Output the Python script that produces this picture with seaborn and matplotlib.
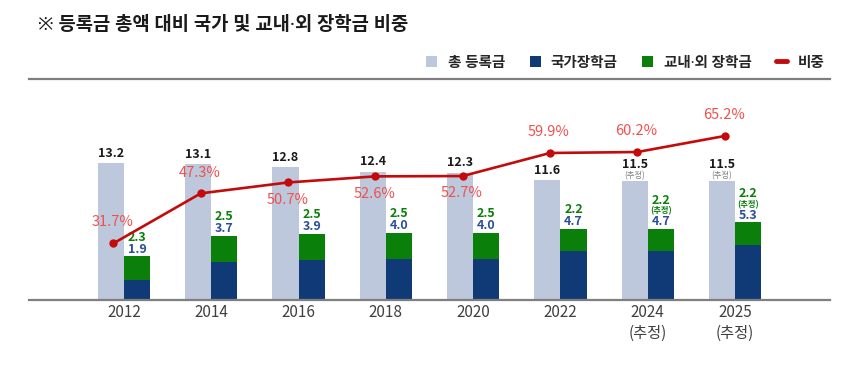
import numpy as np
import pandas as pd
import seaborn as sns
import matplotlib
matplotlib.use("Agg")
import matplotlib.pyplot as plt
from matplotlib.patches import Patch
from matplotlib.lines import Line2D

# ---- data ----
years = ['2012', '2014', '2016', '2018', '2020', '2022', '2024', '2025']
tick_labels = ['2012', '2014', '2016', '2018', '2020', '2022', '2024\n(추정)', '2025\n(추정)']
total = [13.2, 13.1, 12.8, 12.4, 12.3, 11.6, 11.5, 11.5]
national = [1.9, 3.7, 3.9, 4.0, 4.0, 4.7, 4.7, 5.3]
external = [2.3, 2.5, 2.5, 2.5, 2.5, 2.2, 2.2, 2.2]
ratio = [31.7, 47.3, 50.7, 52.6, 52.7, 59.9, 60.2, 65.2]
estimated = [False, False, False, False, False, False, True, True]
ratio_below = [False, False, True, True, True, False, False, False]

title = '※ 등록금 총액 대비 국가 및 교내·외 장학금 비중'
legend_labels = ['총 등록금', '국가장학금', '교내·외 장학금', '비중']

# ---- style ----
sns.set_style('white')
plt.rcParams['font.family'] = ['Noto Sans CJK KR', 'DejaVu Sans']
MIX = ['Noto Sans', 'Noto Sans CJK KR', 'DejaVu Sans']

C_GRAY = '#BDC8DC'
C_NAVY = '#103A76'
C_GREEN = '#0A7F0A'
C_RED = '#C40A0A'
C_RLAB = '#F0504E'
C_SPINE = '#7F7F7F'

fig = plt.figure(figsize=(8.6, 3.77), dpi=100)
ax = fig.add_axes([29 / 860, 1 - 300 / 377, 801 / 860, 221 / 377])

hue_order = ['총 등록금', '장학금']
df_top = pd.DataFrame({
    'year': years + years,
    'kind': ['총 등록금'] * len(years) + ['장학금'] * len(years),
    'value': total + [n + e for n, e in zip(national, external)],
})
df_nat = pd.DataFrame({
    'year': years + years,
    'kind': ['총 등록금'] * len(years) + ['장학금'] * len(years),
    'value': total + national,
})

sns.barplot(data=df_top, x='year', y='value', hue='kind', hue_order=hue_order,
            order=years, palette=[C_GRAY, C_GREEN], width=0.6, gap=0,
            saturation=1, errorbar=None, linewidth=0, legend=False, ax=ax)
sns.barplot(data=df_nat, x='year', y='value', hue='kind', hue_order=hue_order,
            order=years, palette=[C_GRAY, C_NAVY], width=0.6, gap=0,
            saturation=1, errorbar=None, linewidth=0, legend=False, ax=ax)

ax2 = ax.twinx()
xpos = np.arange(len(years))
sns.lineplot(x=xpos - 0.12, y=ratio, ax=ax2, color=C_RED, linewidth=1.9,
             marker='o', markersize=6, markeredgewidth=0, legend=False)

ax.set_xlim(-1.088, 8.088)
ax.set_ylim(0, 21.33)
ax2.set_ylim(14.0, 83.0)

# spines / ticks
for a in (ax, ax2):
    for s in ('left', 'right'):
        a.spines[s].set_visible(False)
    a.set_ylabel('')
    a.set_yticks([])
ax2.spines['top'].set_visible(False)
ax2.spines['bottom'].set_visible(False)
for s in ('top', 'bottom'):
    ax.spines[s].set_color(C_SPINE)
    ax.spines[s].set_linewidth(1.6)
ax.set_xlabel('')
ax.set_xticks(xpos)
ax.set_xticklabels(tick_labels, fontsize=11, color='#404040', linespacing=1.3)
ax.tick_params(axis='x', length=0, pad=3)

# bar value labels
off = 0.15
VS = 9
for i in range(len(years)):
    top_stack = national[i] + external[i]
    if estimated[i]:
        ax.annotate('(추정)', (i - off, total[i]), xytext=(0, 4.0), textcoords='offset points',
                    ha='center', va='center', fontsize=6, color='#7F7F7F')
        ax.annotate(f'{total[i]:.1f}', (i - off, total[i]), xytext=(0, 12.0), textcoords='offset points',
                    ha='center', va='center', fontsize=VS, fontweight='bold', color='#1A1A1A')
        ax.annotate(f'{national[i]:.1f}', (i + off, top_stack), xytext=(0, 5.2), textcoords='offset points',
                    ha='center', va='center', fontsize=VS, fontweight='bold', color='#2B4E9A')
        ax.annotate('(추정)', (i + off, top_stack), xytext=(0, 12.8), textcoords='offset points',
                    ha='center', va='center', fontsize=6, fontweight='bold', color=C_GREEN)
        ax.annotate(f'{external[i]:.1f}', (i + off, top_stack), xytext=(0, 20.5), textcoords='offset points',
                    ha='center', va='center', fontsize=VS, fontweight='bold', color=C_GREEN)
    else:
        ax.annotate(f'{total[i]:.1f}', (i - off, total[i]), xytext=(0, 7.0), textcoords='offset points',
                    ha='center', va='center', fontsize=VS, fontweight='bold', color='#1A1A1A')
        ax.annotate(f'{national[i]:.1f}', (i + off, top_stack), xytext=(0, 5.2), textcoords='offset points',
                    ha='center', va='center', fontsize=VS, fontweight='bold', color='#2B4E9A')
        ax.annotate(f'{external[i]:.1f}', (i + off, top_stack), xytext=(0, 14.0), textcoords='offset points',
                    ha='center', va='center', fontsize=VS, fontweight='bold', color=C_GREEN)

# ratio labels
for i in range(len(years)):
    dy = -12.5 if ratio_below[i] else 15.0
    ax2.annotate(f'{ratio[i]:.1f}%', (i - 0.13, ratio[i]), xytext=(0, dy), textcoords='offset points',
                 ha='center', va='center', fontsize=10.5, color=C_RLAB)

# title
fig.text(38 / 860, 1 - 25 / 377, title, ha='left', va='center', fontsize=13.5,
         fontweight='bold', color='#1A1A1A', family=MIX)

# legend
handles = [Patch(facecolor=C_GRAY, edgecolor='none'),
           Patch(facecolor=C_NAVY, edgecolor='none'),
           Patch(facecolor=C_GREEN, edgecolor='none'),
           Line2D([0], [0], color=C_RED, linewidth=3.5)]
leg = fig.legend(handles, legend_labels, ncol=4, loc='center right',
                 bbox_to_anchor=(824 / 860, 1 - 63 / 377), frameon=False,
                 handlelength=0.75, handleheight=0.75, handletextpad=0.7,
                 columnspacing=1.7, borderaxespad=0, borderpad=0,
                 prop={'size': 10.5, 'weight': 'bold', 'family': MIX})
for t in leg.get_texts():
    t.set_color('#262626')

fig.savefig('out.png', dpi=100)
